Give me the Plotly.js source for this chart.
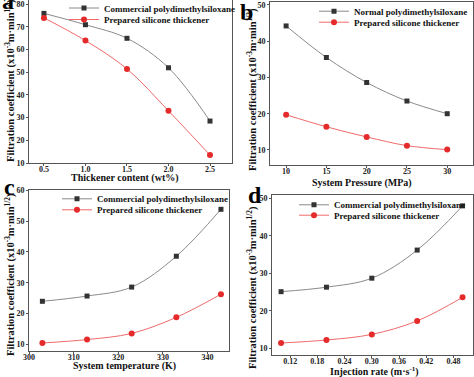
<!DOCTYPE html>
<html>
<head>
<meta charset="utf-8">
<script src="https://cdn.plot.ly/plotly-3.0.1.min.js"></script>
<style>html,body{margin:0;padding:0;background:#fff}#chart{width:474px;height:377px}</style>
</head>
<body>
<div id="chart"></div>
<script>
// Panel a
const thickener = [0.5, 1.0, 1.5, 2.0, 2.5];
const aCommercial = [76, 71, 65, 52, 28.5];
const aPrepared = [74, 64, 51.5, 33, 13.5];
// Panel b
const pressure = [10, 15, 20, 25, 30];
const bNormal = [44.2, 35.5, 28.6, 23.5, 20.0];
const bPrepared = [19.7, 16.4, 13.6, 11.2, 10.1];
// Panel c
const temperature = [303, 313, 323, 333, 343];
const cCommercial = [24.0, 25.7, 28.6, 38.6, 53.8];
const cPrepared = [10.5, 11.6, 13.6, 18.8, 26.3];
// Panel d
const injection = [0.1, 0.2, 0.3, 0.4, 0.5];
const dCommercial = [25.1, 26.3, 28.7, 36.2, 48.0];
const dPrepared = [11.4, 12.2, 13.7, 17.3, 23.6];

// Tick labels
const aTicksX = [0.5, 1.0, 1.5, 2.0, 2.5];
const aTicksY = [10, 20, 30, 40, 50, 60, 70, 80];
const bTicksX = [10, 15, 20, 25, 30];
const bTicksY = [10, 20, 30, 40, 50];
const cTicksX = [300, 310, 320, 330, 340];
const cTicksY = [10, 20, 30, 40, 50, 60];
const dTicksX = [0.12, 0.18, 0.24, 0.30, 0.36, 0.42, 0.48];
const dTicksY = [10, 20, 30, 40, 50];

const nameCommercial = 'Commercial polydimethylsiloxane';
const nameNormal = 'Normal polydimethylsiloxane';
const namePrepared = 'Prepared silicone thickener';
const yTitle = 'Filtration coefficient (x10<sup>-3</sup>m·min<sup>1/2</sup>)';

const FONT = 'Liberation Serif, Times New Roman, serif';
const grayLine = '#8a8a8a', grayMark = '#333333';
const redLine = '#f06a6a', redMark = '#e42a2a';

function pair(x, y1, y2, n1, xa, ya, lg1, lg2) {
  return [
    {x: x, y: y1, name: n1, xaxis: xa, yaxis: ya, legend: lg1, mode: 'lines+markers',
     line: {color: grayLine, width: 1, shape: 'spline', smoothing: 1},
     marker: {symbol: 'square', size: 5, color: grayMark}},
    {x: x, y: y2, name: namePrepared, xaxis: xa, yaxis: ya, legend: lg2, mode: 'lines+markers',
     line: {color: redLine, width: 1, shape: 'spline', smoothing: 1},
     marker: {symbol: 'circle', size: 6, color: redMark}}
  ];
}

const data = [].concat(
  pair(thickener, aCommercial, aPrepared, nameCommercial, 'x', 'y', 'legend', 'legend2'),
  pair(pressure, bNormal, bPrepared, nameNormal, 'x2', 'y2', 'legend3', 'legend4'),
  pair(temperature, cCommercial, cPrepared, nameCommercial, 'x3', 'y3', 'legend5', 'legend6'),
  pair(injection, dCommercial, dPrepared, nameCommercial, 'x4', 'y4', 'legend7', 'legend8')
);

const tickFont = {family: FONT, size: 8, color: '#222', weight: 'bold'};

function xax(domain, range, tickvals, anchor, fmt) {
  return {domain: domain, range: range, anchor: anchor, tickvals: tickvals, tickformat: fmt,
    showgrid: false, zeroline: false, showline: true, mirror: true, linecolor: '#555', linewidth: 1,
    ticks: 'outside', ticklen: 2, tickcolor: '#555', tickfont: tickFont, automargin: false,
    ticklabelstandoff: -4};
}
function yax(domain, range, tickvals, anchor) {
  return {domain: domain, range: range, anchor: anchor, tickvals: tickvals,
    showgrid: false, zeroline: false, showline: true, mirror: true, linecolor: '#555', linewidth: 1,
    ticks: 'outside', ticklen: 2, tickcolor: '#555', tickfont: tickFont, automargin: false};
}
function leg(xpx, ypx) {
  return {x: xpx / 474, y: 1 - (ypx + 0.5) / 377, xanchor: 'left', yanchor: 'middle',
    bgcolor: 'rgba(0,0,0,0)', borderwidth: 0, tracegroupgap: 0,
    font: {family: FONT, size: 9, color: '#111', weight: 'bold'}, itemwidth: 30};
}
function letter(t, xpx, ypx) {
  return {text: t, x: xpx / 474, y: 1 - ypx / 377, xref: 'paper', yref: 'paper',
    xanchor: 'left', yanchor: 'middle', showarrow: false,
    font: {family: FONT, size: 24, color: '#000', weight: 'bold'}};
}
function xtitle(t, xpx, ypx) {
  return {text: t, x: xpx / 474, y: 1 - ypx / 377, xref: 'paper', yref: 'paper',
    xanchor: 'center', yanchor: 'middle', showarrow: false,
    font: {family: FONT, size: 10, color: '#111', weight: 'bold'}};
}
function ytitle(xpx, ypx) {
  return {text: yTitle, x: xpx / 474, y: 1 - ypx / 377, xref: 'paper', yref: 'paper',
    xanchor: 'center', yanchor: 'middle', showarrow: false, textangle: -90,
    font: {family: FONT, size: 10.5, color: '#111', weight: 'bold'}};
}

const layout = {
  width: 474, height: 377,
  margin: {l: 0, r: 0, t: 0, b: 0, autoexpand: false},
  paper_bgcolor: '#fff', plot_bgcolor: '#fff',
  showlegend: true,
  xaxis: xax([29/474, 232/474], [0.32, 2.765], aTicksX, 'y', '.1f'),
  yaxis: yax([1 - 163/377, 1], [10, 81.9], aTicksY, 'x'),
  xaxis2: xax([270/474, 473/474], [8.0, 33.2], bTicksX, 'y2'),
  yaxis2: yax([1 - 165/377, 1 - 2/377], [5.86, 50.8], bTicksY, 'x2'),
  xaxis3: xax([29/474, 229/474], [300, 344.8], cTicksX, 'y3'),
  yaxis3: yax([1 - 351/377, 1 - 190/377], [7.9, 60.05], cTicksY, 'x3'),
  xaxis4: xax([272/474, 473/474], [0.08, 0.523], dTicksX, 'y4', '.2f'),
  yaxis4: yax([1 - 355/377, 1 - 195/377], [8.2, 50.9], dTicksY, 'x4'),
  legend: leg(64, 7.5),
  legend2: leg(64, 19),
  legend3: leg(314, 10.7),
  legend4: leg(314, 21.7),
  legend5: leg(57, 198.3),
  legend6: leg(57, 209.3),
  legend7: leg(294, 204.3),
  legend8: leg(294, 214.7),
  annotations: [
    letter('a', 0, 1),
    letter('b', 238, 12),
    letter('c', 2, 187),
    letter('d', 246, 195),
    xtitle('Thickener content (wt%)', 125, 178),
    xtitle('System Pressure (MPa)', 362, 183),
    xtitle('System temperature (K)', 124, 366),
    xtitle('Injection rate (m·s<sup>-1</sup>)', 374, 371),
    ytitle(10, 81),
    ytitle(252, 89),
    ytitle(10, 275),
    ytitle(252, 287)
  ]
};

Plotly.newPlot('chart', data, layout, {staticPlot: true, displayModeBar: false});
</script>
</body>
</html>
